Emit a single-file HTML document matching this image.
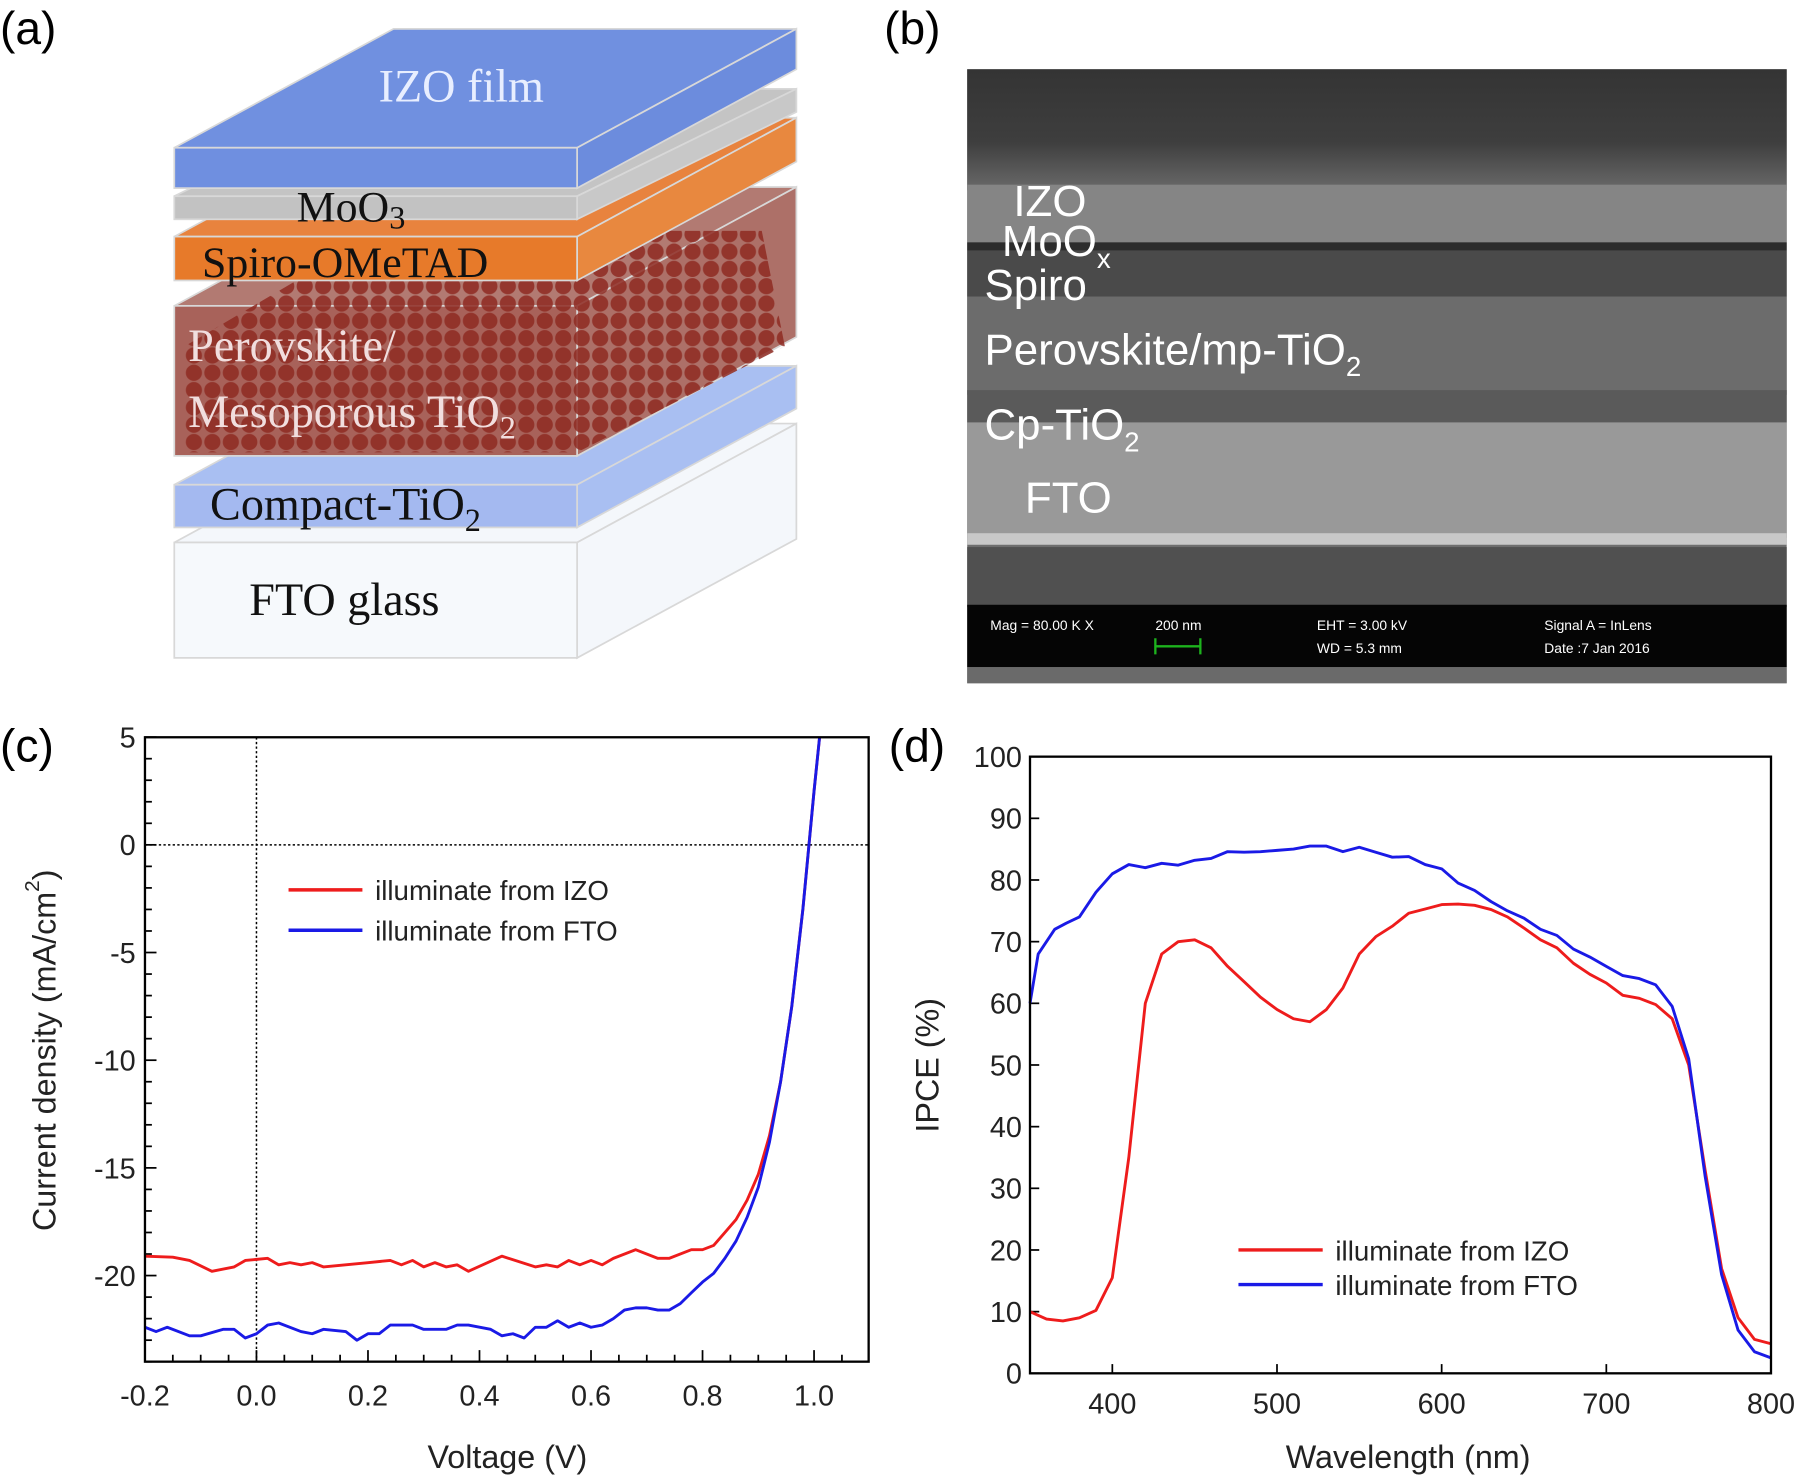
<!DOCTYPE html>
<html><head><meta charset="utf-8"><style>
html,body{margin:0;padding:0;background:#fff;}
svg{display:block;}
text{font-family:"Liberation Sans",sans-serif;}
</style></head><body>
<svg id="s" width="1804" height="1478" viewBox="0 0 1563 1280.6" preserveAspectRatio="none" xmlns="http://www.w3.org/2000/svg">
<defs>
<linearGradient id="semtop" x1="0" y1="0" x2="0" y2="1">
<stop offset="0" stop-color="#343434"/><stop offset="0.6" stop-color="#3e3e3e"/><stop offset="1" stop-color="#6a6a6a"/>
</linearGradient>
<pattern id="dots" width="16" height="15" patternUnits="userSpaceOnUse">
<circle cx="8" cy="8" r="7" fill="#8e2a22" opacity="0.85"/>
</pattern>
</defs>
<text x="0" y="38" font-size="40">(a)</text>
<text x="766" y="38" font-size="40">(b)</text>
<text x="0" y="660" font-size="40">(c)</text>
<text x="770" y="660" font-size="40">(d)</text>

<g stroke="#d8d8d8" stroke-width="1.5">
<polygon points="151,470 341,367 690,367 500,470" fill="#f4f7fb"/>
<polygon points="500,470 690,367 690,467 500,570" fill="#f4f7fb"/>
<rect x="151" y="470" width="349" height="100" fill="#f6f9fc"/>
<polygon points="151,420 341,317 690,317 500,420" fill="#a9bff2"/>
<polygon points="500,420 690,317 690,354 500,457" fill="#a9bff2"/>
<rect x="151" y="420" width="349" height="37" fill="#a4b9f0"/>
<polygon points="151,265 341,162 690,162 500,265" fill="#b27a72"/>
<polygon points="500,265 690,162 690,292 500,395" fill="#ad7068"/>
<rect x="151" y="265" width="349" height="130" fill="#a8625a"/>
<polygon points="160,392 160,300 330,200 660,200 680,300 500,392" fill="url(#dots)" stroke="none"/>
<polygon points="151,205 341,102 690,102 500,205" fill="#e8833e"/>
<polygon points="500,205 690,102 690,140 500,243" fill="#e8883f"/>
<rect x="151" y="205" width="349" height="38" fill="#e77a2a"/>
<polygon points="151,170 341,77 690,77 500,170" fill="#c4c4c4"/>
<polygon points="500,170 690,77 690,97 500,190" fill="#c8c8c8"/>
<rect x="151" y="170" width="349" height="20" fill="#c2c2c2"/>
<polygon points="151,128 341,25 690,25 500,128" fill="#7090e0"/>
<polygon points="500,128 690,25 690,60 500,163" fill="#6c8cdd"/>
<rect x="151" y="128" width="349" height="35" fill="#6f8fe0"/>
</g>
<g>
<text x="328" y="88" font-size="40" fill="#e8eeff" style="font-family:'Liberation Serif',serif">IZO film</text>
<text x="257" y="192" font-size="38" fill="#111" style="font-family:'Liberation Serif',serif">MoO<tspan font-size="28" dy="6">3</tspan></text>
<text x="175" y="240" font-size="38" fill="#111" style="font-family:'Liberation Serif',serif">Spiro-OMeTAD</text>
<text x="163" y="313" font-size="40" fill="#f1dede" style="font-family:'Liberation Serif',serif">Perovskite/</text>
<text x="163" y="370" font-size="40" fill="#f1dede" style="font-family:'Liberation Serif',serif">Mesoporous TiO<tspan font-size="28" dy="10">2</tspan></text>
<text x="182" y="450" font-size="40" fill="#111" style="font-family:'Liberation Serif',serif">Compact-TiO<tspan font-size="28" dy="10">2</tspan></text>
<text x="216" y="533" font-size="40" fill="#111" style="font-family:'Liberation Serif',serif">FTO glass</text>
</g>

<rect x="838" y="60" width="710" height="532" fill="#6e6e6e"/>
<rect x="838" y="60" width="710" height="105" fill="url(#semtop)"/>
<rect x="838" y="160" width="710" height="50" fill="#858585"/>
<rect x="838" y="210" width="710" height="7" fill="#2c2c2c"/>
<rect x="838" y="217" width="710" height="40" fill="#4a4a4a"/>
<rect x="838" y="257" width="710" height="85" fill="#6c6c6c"/>
<rect x="838" y="338" width="710" height="28" fill="#5a5a5a"/>
<rect x="838" y="366" width="710" height="100" fill="#999"/>
<rect x="838" y="462" width="710" height="10" fill="#c8c8c8"/>
<rect x="838" y="474" width="710" height="52" fill="#505050"/>
<rect x="838" y="524" width="710" height="54" fill="#050505"/>
<rect x="838" y="578" width="710" height="14" fill="#6a6a6a"/>
<g fill="#fff">
<text x="878" y="187" font-size="38">IZO</text>
<text x="868" y="222" font-size="38">MoO<tspan font-size="24" dy="10">x</tspan></text>
<text x="853" y="260" font-size="38">Spiro</text>
<text x="853" y="316" font-size="38">Perovskite/mp-TiO<tspan font-size="24" dy="10">2</tspan></text>
<text x="853" y="381" font-size="38">Cp-TiO<tspan font-size="24" dy="10">2</tspan></text>
<text x="888" y="444" font-size="38">FTO</text>
<g font-size="12">
<text x="858" y="546">Mag =  80.00 K X</text>
<text x="1001" y="546">200 nm</text>
<text x="1141" y="546">EHT =  3.00 kV</text>
<text x="1141" y="566">WD =  5.3 mm</text>
<text x="1338" y="546">Signal A = InLens</text>
<text x="1338" y="566">Date :7 Jan 2016</text>
</g>
</g>
<path d="M1001,560 H1040 M1001,553 V567 M1040,553 V567" stroke="#1db31d" stroke-width="2"/>

<g id="pc"></g>
<g id="pd"></g>
</svg>
<script>
var NS="http://www.w3.org/2000/svg";
function el(p,t,a,txt){var e=document.createElementNS(NS,t);for(var k in a)e.setAttribute(k,a[k]);if(txt!==undefined)e.textContent=txt;p.appendChild(e);return e;}
var pc=document.getElementById('pc');
var cx=function(v){return 222.2+v*483.1;}, cy=function(j){return 732-j*18.66;};
var L=125.6,R=752.6,T=638.8,B=1179.8;
el(pc,'line',{x1:cx(0),y1:T,x2:cx(0),y2:B,stroke:'#000','stroke-width':1.3,'stroke-dasharray':'2,2'});
el(pc,'line',{x1:L,y1:cy(0),x2:R,y2:cy(0),stroke:'#000','stroke-width':1.3,'stroke-dasharray':'2,2'});
for(var i=-24;i<=5;i++){var y=cy(i);var len=(i%5==0)?10:6;el(pc,'line',{x1:L,y1:y,x2:L+len,y2:y,stroke:'#000','stroke-width':1.5});}
for(var i=-4;i<=22;i++){var v=i*0.05;var x=cx(v);var len=(i%4==0)?10:6;if(x<=R)el(pc,'line',{x1:x,y1:B,x2:x,y2:B-len,stroke:'#000','stroke-width':1.5});}
[5,0,-5,-10,-15,-20].forEach(function(j){el(pc,'text',{x:L-8,y:cy(j)+9,'font-size':25,'text-anchor':'end',fill:'#222'},String(j));});
[-0.2,0,0.2,0.4,0.6,0.8,1.0].forEach(function(v){el(pc,'text',{x:cx(v),y:B+38,'font-size':25,'text-anchor':'middle',fill:'#222'},v.toFixed(1));});
el(pc,'text',{x:cx(0.45),y:1272,'font-size':28,'text-anchor':'middle',fill:'#222'},'Voltage (V)');
var yt=el(pc,'text',{x:0,y:0,'font-size':28,'text-anchor':'middle',fill:'#222',transform:'translate(48,910) rotate(-90)'},'Current density (mA/cm');
el(yt,'tspan',{'font-size':18,dy:-14},'2');el(yt,'tspan',{dy:14},')');
var red=[[-0.2,-19.1],[-0.15,-19.15],[-0.12,-19.3],[-0.08,-19.8],[-0.04,-19.6],[-0.02,-19.3],[0.02,-19.2],[0.04,-19.5],[0.06,-19.4],[0.08,-19.5],[0.1,-19.4],[0.12,-19.6],[0.16,-19.5],[0.2,-19.4],[0.24,-19.3],[0.26,-19.5],[0.28,-19.3],[0.3,-19.6],[0.32,-19.4],[0.34,-19.6],[0.36,-19.5],[0.38,-19.8],[0.44,-19.1],[0.5,-19.6],[0.52,-19.5],[0.54,-19.6],[0.56,-19.3],[0.58,-19.5],[0.6,-19.3],[0.62,-19.5],[0.64,-19.2],[0.68,-18.8],[0.72,-19.2],[0.74,-19.2],[0.78,-18.8],[0.8,-18.8],[0.82,-18.6],[0.84,-18.0],[0.86,-17.4],[0.88,-16.5],[0.9,-15.3],[0.92,-13.5],[0.94,-11],[0.96,-7.5],[0.98,-3],[1.0,2.5],[1.01,5]];
var blue=[[-0.2,-22.4],[-0.18,-22.6],[-0.16,-22.4],[-0.12,-22.8],[-0.1,-22.8],[-0.06,-22.5],[-0.04,-22.5],[-0.02,-22.9],[0,-22.7],[0.02,-22.3],[0.04,-22.2],[0.08,-22.6],[0.1,-22.7],[0.12,-22.5],[0.16,-22.6],[0.18,-23],[0.2,-22.7],[0.22,-22.7],[0.24,-22.3],[0.28,-22.3],[0.3,-22.5],[0.34,-22.5],[0.36,-22.3],[0.38,-22.3],[0.42,-22.5],[0.44,-22.8],[0.46,-22.7],[0.48,-22.9],[0.5,-22.4],[0.52,-22.4],[0.54,-22.1],[0.56,-22.4],[0.58,-22.2],[0.6,-22.4],[0.62,-22.3],[0.64,-22.0],[0.66,-21.6],[0.68,-21.5],[0.7,-21.5],[0.72,-21.6],[0.74,-21.6],[0.76,-21.3],[0.78,-20.8],[0.8,-20.3],[0.82,-19.9],[0.84,-19.2],[0.86,-18.4],[0.88,-17.3],[0.9,-15.9],[0.92,-13.8],[0.94,-11],[0.96,-7.5],[0.98,-3],[1.0,2.5],[1.01,5]];
function pl(p,d,fx,fy,c){el(p,'polyline',{points:d.map(function(q){return fx(q[0]).toFixed(1)+','+fy(q[1]).toFixed(1);}).join(' '),fill:'none',stroke:c,'stroke-width':2.5,'stroke-linejoin':'round'});}
pl(pc,red,cx,cy,'#ee1c1c');pl(pc,blue,cx,cy,'#1a1ae6');
el(pc,'rect',{x:L,y:T,width:R-L,height:B-T,fill:'none',stroke:'#000','stroke-width':2});
el(pc,'line',{x1:250,y1:771,x2:314,y2:771,stroke:'#ee1c1c','stroke-width':3});
el(pc,'line',{x1:250,y1:806,x2:314,y2:806,stroke:'#1a1ae6','stroke-width':3});
el(pc,'text',{x:325,y:780,'font-size':24,fill:'#222'},'illuminate from IZO');
el(pc,'text',{x:325,y:815,'font-size':24,fill:'#222'},'illuminate from FTO');
var pd=document.getElementById('pd');
var L2=892.4,R2=1534.4,T2=655.6,B2=1189.9;
var dx=function(w){return L2+(w-350)*(R2-L2)/450;}, dy=function(v){return B2-v*(B2-T2)/100;};
for(var v=0;v<=100;v+=10){el(pd,'line',{x1:L2,y1:dy(v),x2:L2+8,y2:dy(v),stroke:'#000','stroke-width':1.5});el(pd,'text',{x:L2-7,y:dy(v)+9,'font-size':25,'text-anchor':'end',fill:'#222'},String(v));}
for(var w=400;w<=800;w+=100){el(pd,'line',{x1:dx(w),y1:B2,x2:dx(w),y2:B2-8,stroke:'#000','stroke-width':1.5});el(pd,'text',{x:dx(w),y:B2+35,'font-size':25,'text-anchor':'middle',fill:'#222'},String(w));}
el(pd,'text',{x:1220,y:1272,'font-size':28,'text-anchor':'middle',fill:'#222'},'Wavelength (nm)');
el(pd,'text',{x:0,y:0,'font-size':28,'text-anchor':'middle',fill:'#222',transform:'translate(813,923) rotate(-90)'},'IPCE (%)');
var bv=[60,68,72,73,74,78,81,82.5,82,82.7,82.4,83.2,83.5,84.6,84.5,84.6,84.8,85,85.5,85.5,84.6,85.3,84.5,83.7,83.8,82.5,81.8,79.5,78.3,76.5,75,73.8,72,71,68.8,67.5,66,64.5,64,63,59.5,51,32,16,7,3.5,2.5];
var bw=[350,355,365,372,380,390,400,410,420,430,440,450,460,470,480,490,500,510,520,530,540,550,560,570,580,590,600,610,620,630,640,650,660,670,680,690,700,710,720,730,740,750,760,770,780,790,800];
var rv=[10,8.8,8.5,9,10.2,15.5,35,60,68,70,70.3,69,66,63.5,61,59,57.5,57,59,62.5,68,70.8,72.5,74.6,75.3,76,76.1,75.9,75.2,74,72.2,70.3,69,66.5,64.7,63.3,61.3,60.8,59.8,57.5,50,33,17,9,5.5,4.8];
var B_=bw.map(function(w,i){return [w,bv[i]];});
var R_=rv.map(function(v,i){return [350+i*10,v];});
pl(pd,R_,dx,dy,'#ee1c1c');pl(pd,B_,dx,dy,'#1a1ae6');
el(pd,'rect',{x:L2,y:T2,width:R2-L2,height:B2-T2,fill:'none',stroke:'#000','stroke-width':2});
el(pd,'line',{x1:1073,y1:1083,x2:1146,y2:1083,stroke:'#ee1c1c','stroke-width':3});
el(pd,'line',{x1:1073,y1:1113,x2:1146,y2:1113,stroke:'#1a1ae6','stroke-width':3});
el(pd,'text',{x:1157,y:1092,'font-size':24,fill:'#222'},'illuminate from IZO');
el(pd,'text',{x:1157,y:1122,'font-size':24,fill:'#222'},'illuminate from FTO');
</script>
</body></html>
